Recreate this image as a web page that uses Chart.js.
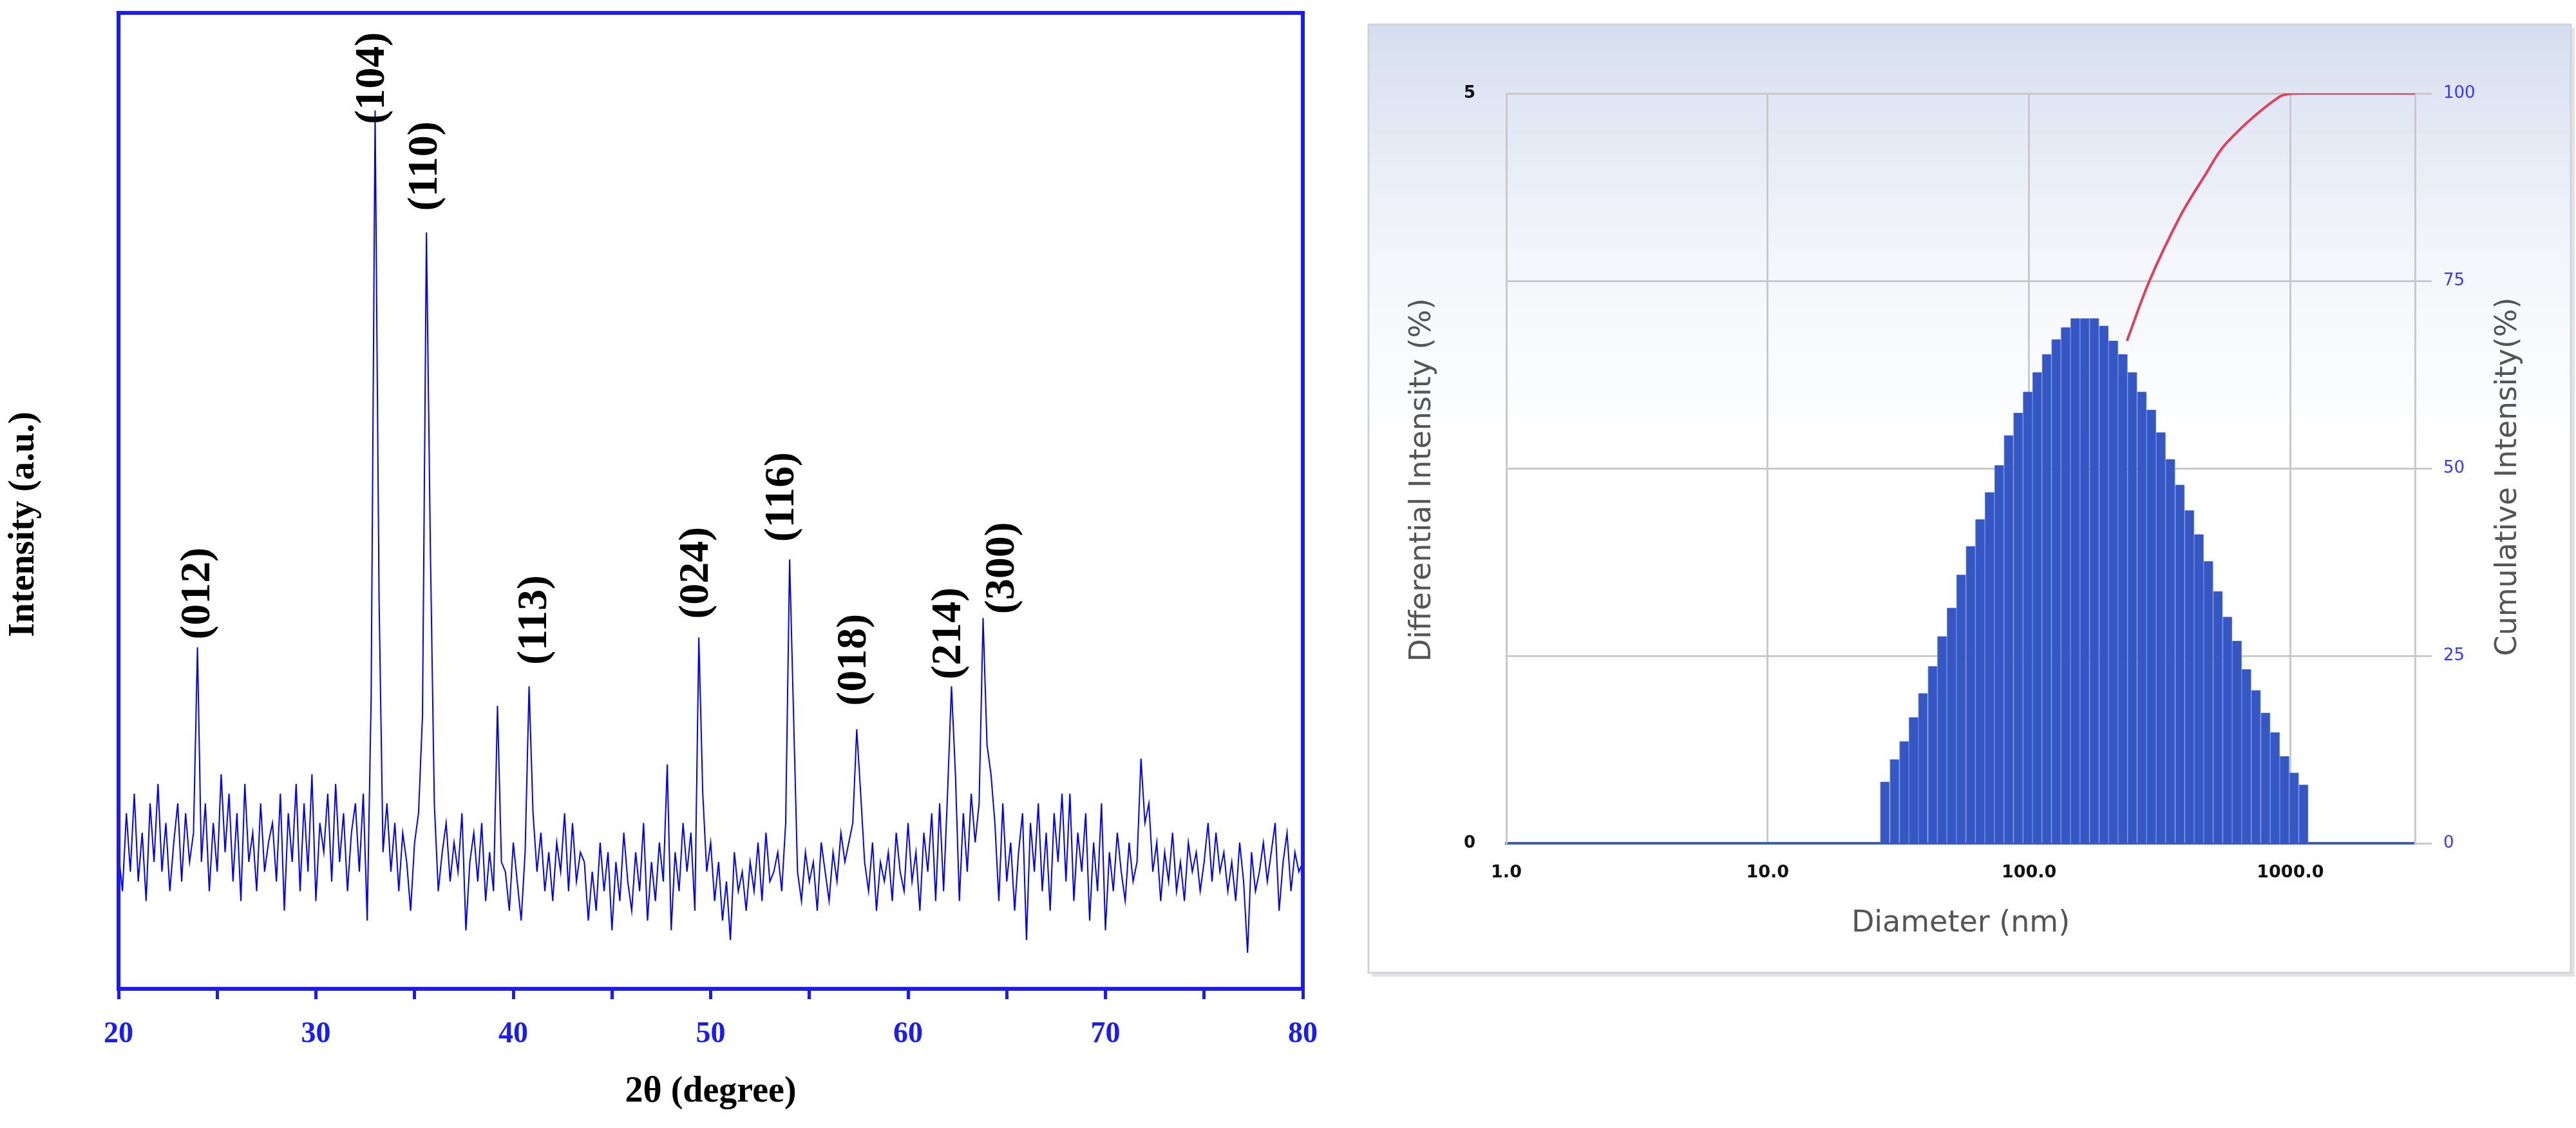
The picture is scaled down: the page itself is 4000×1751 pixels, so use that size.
<!DOCTYPE html>
<html><head><meta charset="utf-8">
<script src="https://cdn.jsdelivr.net/npm/chart.js@4.4.1/dist/chart.umd.min.js"></script>
<style>body{margin:0;background:#fff;width:4000px;height:1751px;position:relative;overflow:hidden}
canvas{position:absolute;top:0}</style></head>
<body>
<canvas id="c1" width="2090" height="1751" style="left:0;width:2090px;height:1751px"></canvas>
<canvas id="c2" width="1900" height="1751" style="left:2100px;width:1900px;height:1751px"></canvas>
<script>
// ---- XRD data ----
const xrdStart = 20, xrdStep = 0.2;
const xrdIntensity = [
14,10,18,12,20,11,16,9,19,13,
21,12,17,10,15,19,11,18,13,16,
35,13,19,10,17,12,22,14,20,11,
18,9,21,13,16,10,19,12,15,17,
11,20,8,18,13,21,10,19,12,22,
9,17,14,20,11,21,13,18,10,16,
19,12,20,7,30,90,40,14,19,12,
17,10,16,13,8,15,18,28,77.5,45,
19,10,14,17,11,15,12,18,6,13,
16,11,17,9,14,10,29,13,12,8,
15,11,7,14,31,18,12,16,10,14,
9,15,12,18,10,17,11,14,13,7,
12,8,15,10,14,6,13,9,16,11,
8,14,10,17,7,13,9,15,11,23,
6,14,10,17,12,16,8,36,20,12,
15,9,13,7,11,5,14,10,12,8,
13,10,15,9,16,11,12,14,10,17,
44,28,12,9,14,11,13,8,15,12,
9,14,11,16,13,15,17,26.6,20,13,
10,15,8,13,11,14,9,16,12,10,
17,11,14,8,16,12,18,9,19,10,
20,31,22,9,18,12,20,15,19,38,
25,22,17,9,19,11,15,8,14,18,
5,17,12,19,10,16,8,18,13,20,
11,20,9,16,12,18,7,15,10,19,
6,14,10,16,12,9,15,11,13,23.6,
17,19,12,15,9,14,11,16,10,13,
9,15,12,14,10,13,17,11,16,12,
14,10,13,9,15,11,3.7,14,10,12,
15,11,14,17,8,13,16,10,14,12,
13];
const peakLabels = ['(012)','(104)','(110)','(113)','(024)','(116)','(018)','(214)','(300)'];
const peakLabelX = [24.06,32.9,35.55,41.1,49.3,53.65,57.3,62.1,64.8];
const peakLabelY = [35.8,88.6,79.7,33.2,37.9,45.8,29,31.7,38.4];
const xrdTicks = [20,30,40,50,60,70,80];

// ---- DLS data ----
const diameters = [28.1,30.6,33.3,36.2,39.3,42.8,46.5,50.6,55.0,59.8,65.0,70.7,76.9,83.6,90.9,98.9,107.5,116.9,127.1,138.2,150.3,163.5,177.8,193.3,210.2,228.6,248.6,270.3,293.9,319.6,347.5,377.9,411.0,446.9,486.0,528.4,574.6,624.9,679.5,738.9,803.5,873.8,950.1,1033.2,1123.6];
const differential = [0.41,0.56,0.68,0.84,1.0,1.18,1.38,1.57,1.79,1.98,2.16,2.34,2.52,2.72,2.87,3.01,3.14,3.26,3.36,3.44,3.50,3.50,3.50,3.45,3.35,3.26,3.14,3.01,2.89,2.74,2.56,2.39,2.22,2.06,1.88,1.68,1.51,1.35,1.16,1.02,0.87,0.74,0.58,0.47,0.39];
const cumDiam = [237,289,380,470,570,913,1084,3000];
const cumulative = [67,75,83.7,89,93.4,99.6,100,100];
const diamTickLabels = ['1.0','10.0','100.0','1000.0'];

// ---- Chart 1 ----
const serif = '"Liberation Serif","Times New Roman",serif';
const xrdPlugin = {
  id:'xrdDeco',
  afterDatasetsDraw(chart){
    const {ctx, chartArea:a, scales} = chart;
    ctx.save();
    ctx.strokeStyle = '#1a1aff'; ctx.lineWidth = 6;
    ctx.strokeRect(a.left, a.top, a.right-a.left, a.bottom-a.top);
    ctx.fillStyle = '#000';
    ctx.font = 'bold 66px ' + serif;
    ctx.textAlign = 'left'; ctx.textBaseline = 'middle';
    peakLabels.forEach((t,i)=>{
      const px = scales.x.getPixelForValue(peakLabelX[i]);
      const py = scales.y.getPixelForValue(peakLabelY[i]);
      ctx.save(); ctx.translate(px, py); ctx.rotate(-Math.PI/2);
      ctx.fillText(t, 0, 0); ctx.restore();
    });
    ctx.font = 'bold 56px ' + serif;
    ctx.textAlign = 'center';
    ctx.save(); ctx.translate(38, 814); ctx.rotate(-Math.PI/2);
    ctx.fillText('Intensity (a.u.)', 0, 0); ctx.restore();
    ctx.fillText('2θ (degree)', (a.left+a.right)/2, 1696);
    ctx.restore();
  }
};
new Chart(document.getElementById('c1'), {
  type:'line',
  data:{datasets:[{data: xrdIntensity.map((v,i)=>({x: xrdStart + i*xrdStep, y: v})),
    borderColor:'#0000ff', borderWidth:2, pointRadius:0, tension:0}]},
  options:{
    responsive:false, animation:false, devicePixelRatio:1,
    layout:{padding:{left:0,top:20,right:67,bottom:0}},
    plugins:{legend:{display:false}, tooltip:{enabled:false}},
    scales:{
      x:{type:'linear', min:20, max:80,
        afterFit(s){ s.height = 1751-1515-20; },
        afterBuildTicks(s){ s.ticks = []; for(let v=20; v<=80; v+=5) s.ticks.push({value:v}); },
        grid:{drawOnChartArea:false, color:'#1a1aff', lineWidth:5, tickLength:16},
        border:{display:false},
        ticks:{color:'#1a1aff', font:{family:serif, weight:'bold', size:46}, padding:28, maxRotation:0, autoSkip:false,
          callback:v=> xrdTicks.includes(v) ? String(v) : ''},
        title:{display:false}
      },
      y:{min:0, max:100, afterFit(s){ s.width = 184; },
        ticks:{display:false}, grid:{display:false}, border:{display:false}}
    }
  },
  plugins:[xrdPlugin]
});

// ---- Chart 2 ----
const sans = '"DejaVu Sans", Verdana, sans-serif';
const panelPlugin = {
  id:'panel',
  beforeDraw(chart){
    const ctx = chart.ctx;
    ctx.save();
    ctx.fillStyle = '#e2e2e2';
    ctx.fillRect(31, 44, 1867, 1472);
    const g = ctx.createLinearGradient(0, 38, 0, 700);
    g.addColorStop(0, '#d6deef'); g.addColorStop(0.55, '#f4f6fb'); g.addColorStop(1, '#ffffff');
    ctx.fillStyle = g;
    ctx.fillRect(25, 38, 1867, 1472);
    ctx.strokeStyle = '#cfd3da'; ctx.lineWidth = 3;
    ctx.strokeRect(25, 38, 1867, 1472);
    ctx.restore();
  },
  afterDraw(chart){
    const ctx = chart.ctx, a = chart.chartArea;
    ctx.save();
    ctx.fillStyle = '#555';
    ctx.font = '46px ' + sans;
    ctx.textAlign = 'center'; ctx.textBaseline = 'middle';
    ctx.fillText('Diameter (nm)', (a.left+a.right)/2, 1434);
    ctx.save(); ctx.translate(2209-2100, 745); ctx.rotate(-Math.PI/2);
    ctx.fillText('Differential Intensity (%)', 0, 0); ctx.restore();
    ctx.save(); ctx.translate(3895-2100, 740); ctx.rotate(-Math.PI/2);
    ctx.fillText('Cumulative Intensity(%)', 0, 0); ctx.restore();
    ctx.restore();
  }
};
const gridCol = '#c9c9c9';
new Chart(document.getElementById('c2'), {
  type:'bar',
  data:{datasets:[
    {type:'line', data: cumDiam.map((d,i)=>({x: Math.log10(d), y: cumulative[i]})), yAxisID:'y2',
      borderColor:'#e0405a', borderWidth:4, pointRadius:0, tension:0.35, order:2},
    {type:'bar', data: diameters.map((d,i)=>({x: Math.log10(d), y: differential[i]})), yAxisID:'y',
      backgroundColor:'#3457c4', borderColor:'#6b88dc', borderWidth:{left:1,right:1,top:0,bottom:0},
      barPercentage:1, categoryPercentage:1, order:1}
  ]},
  options:{
    responsive:false, animation:false, devicePixelRatio:1,
    layout:{padding:{left:0,top:145,right:0,bottom:0}},
    plugins:{legend:{display:false}, tooltip:{enabled:false}},
    scales:{
      x:{type:'linear', min:0, max:Math.log10(3000), offset:false,
        afterFit(s){ s.height = 1751-1309; },
        afterBuildTicks(s){ s.ticks = [0,1,2,3].map(v=>({value:v})); },
        grid:{color:gridCol, lineWidth:3, tickLength:0, offset:false},
        border:{display:true, color:'#3a5cc0', width:4},
        ticks:{color:'#111', font:{family:sans, weight:'bold', size:27}, padding:30, maxRotation:0,
          callback:v=> diamTickLabels[Math.round(v)]},
        title:{display:false}
      },
      y:{position:'left', min:0, max:5, afterFit(s){ s.width = 239; },
        afterBuildTicks(s){ s.ticks = [0,5].map(v=>({value:v})); },
        grid:{display:false}, border:{display:true, color:gridCol, width:3},
        ticks:{color:'#111', font:{family:sans, weight:'bold', size:26}, padding:40},
        title:{display:false}
      },
      y2:{position:'right', min:0, max:100, afterFit(s){ s.width = 250; },
        afterBuildTicks(s){ s.ticks = [0,25,50,75,100].map(v=>({value:v})); },
        grid:{color:gridCol, lineWidth:3, tickLength:26}, border:{display:true, color:gridCol, width:3},
        ticks:{color:'#3838ff', font:{family:sans, size:26}, padding:18},
        title:{display:false}
      }
    }
  },
  plugins:[panelPlugin]
});
</script>
</body></html>
